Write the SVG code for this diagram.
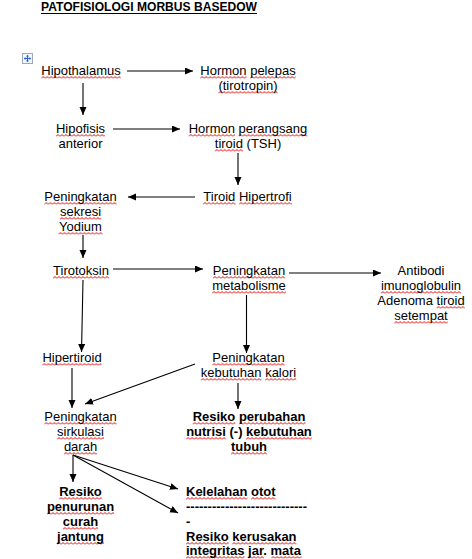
<svg xmlns="http://www.w3.org/2000/svg" width="472" height="559" viewBox="0 0 472 559">
<style>
text{font-family:"Liberation Sans",Arial,sans-serif;font-size:13px;fill:#000}
.c{text-anchor:middle}
.b{font-weight:bold}
.sq{fill:url(#wavy)}
.ln{stroke:#000;stroke-width:1.1;fill:none;marker-end:url(#ah)}
</style>
<defs>
<marker id="ah" markerUnits="userSpaceOnUse" markerWidth="9" markerHeight="8" refX="8" refY="3.5" orient="auto">
<path d="M0,0 L8,3.5 L0,7 z" fill="#000"/>
</marker>
<pattern id="wavy" patternUnits="userSpaceOnUse" width="4" height="3">
<path d="M0,2.5 L2,0.5 L4,2.5" fill="none" stroke="#e60000" stroke-width="1"/>
</pattern>
<rect id="sq0" class="sq" width="1" height="3"/>
</defs>
<rect width="472" height="559" fill="#fff"/>
<g id="title">
<text x="41" y="11" class="b" font-size="12" textLength="216" lengthAdjust="spacingAndGlyphs">PATOFISIOLOGI MORBUS BASEDOW</text>
<line x1="41" y1="13.5" x2="257" y2="13.5" stroke="#000" stroke-width="1.2"/>
</g>
<g id="move-icon">
<rect x="22.5" y="53.5" width="10" height="10" fill="#f4f6fb" stroke="#a0a8b8" stroke-width="1"/>
<path d="M27.5,55.5 V61.5 M24.5,58.5 H30.5" stroke="#2b5fcf" stroke-width="1"/>
<path d="M27.5,54.8 L26,56.5 H29 z M27.5,62.2 L26,60.5 H29 z M23.8,58.5 L25.5,57 V60 z M31.2,58.5 L29.5,57 V60 z" fill="#2b5fcf"/>
</g>
<g id="spellcheck">
<rect class="sq" width="79.5" height="3" transform="translate(41.3,76)"/>
<rect class="sq" width="46.2" height="3" transform="translate(200.3,76)"/>
<rect class="sq" width="45.5" height="3" transform="translate(250.1,76)"/>
<rect class="sq" width="59.2" height="3" transform="translate(218.4,91)"/>
<rect class="sq" width="49.1" height="3" transform="translate(55.9,134)"/>
<rect class="sq" width="46.2" height="3" transform="translate(188.8,134)"/>
<rect class="sq" width="68.7" height="3" transform="translate(238.6,134)"/>
<rect class="sq" width="28.2" height="3" transform="translate(214.8,149)"/>
<rect class="sq" width="32.5" height="3" transform="translate(203.1,202)"/>
<rect class="sq" width="52.7" height="3" transform="translate(239.2,202)"/>
<rect class="sq" width="72.3" height="3" transform="translate(44.4,202)"/>
<rect class="sq" width="41.2" height="3" transform="translate(59.9,217)"/>
<rect class="sq" width="44.1" height="3" transform="translate(58.5,232)"/>
<rect class="sq" width="56.3" height="3" transform="translate(52.9,276)"/>
<rect class="sq" width="72.3" height="3" transform="translate(212.9,276)"/>
<rect class="sq" width="73.7" height="3" transform="translate(212.2,291)"/>
<rect class="sq" width="80.2" height="3" transform="translate(380.9,291)"/>
<rect class="sq" width="28.2" height="3" transform="translate(436.6,306)"/>
<rect class="sq" width="53.5" height="3" transform="translate(394.3,321)"/>
<rect class="sq" width="59.2" height="3" transform="translate(42.4,363)"/>
<rect class="sq" width="72.3" height="3" transform="translate(212.4,363)"/>
<rect class="sq" width="60.7" height="3" transform="translate(200.8,378)"/>
<rect class="sq" width="31.1" height="3" transform="translate(265.1,378)"/>
<rect class="sq" width="72.3" height="3" transform="translate(44.4,422)"/>
<rect class="sq" width="46.9" height="3" transform="translate(57.1,437)"/>
<rect class="sq" width="33.2" height="3" transform="translate(63.9,452)"/>
<rect class="sq" width="42.6" height="3" transform="translate(192.7,422)"/>
<rect class="sq" width="66.5" height="3" transform="translate(238.9,422)"/>
<rect class="sq" width="39.7" height="3" transform="translate(186.2,437)"/>
<rect class="sq" width="65.7" height="3" transform="translate(246.1,437)"/>
<rect class="sq" width="36.1" height="3" transform="translate(231,452)"/>
<rect class="sq" width="42.6" height="3" transform="translate(59.2,497)"/>
<rect class="sq" width="67.2" height="3" transform="translate(46.9,512)"/>
<rect class="sq" width="35.4" height="3" transform="translate(62.8,527)"/>
<rect class="sq" width="46.9" height="3" transform="translate(57.1,542)"/>
<rect class="sq" width="61.4" height="3" transform="translate(186,497)"/>
<rect class="sq" width="24.5" height="3" transform="translate(251,497)"/>
<rect class="sq" width="42.6" height="3" transform="translate(186,542)"/>
<rect class="sq" width="64.3" height="3" transform="translate(232.2,542)"/>
<rect class="sq" width="58.5" height="3" transform="translate(186,556)"/>
<rect class="sq" width="15.9" height="3" transform="translate(248.1,556)"/>
<rect class="sq" width="30.3" height="3" transform="translate(271.3,556)"/>
</g>
<g id="hipothalamus"><text x="81" y="75" class="c">Hipothalamus</text></g>
<g id="hormon-pelepas"><text x="248" y="75" class="c">Hormon pelepas<tspan x="248" dy="15">(tirotropin)</tspan></text></g>
<g id="hipofisis"><text x="80.5" y="133" class="c">Hipofisis<tspan x="80.5" dy="15">anterior</tspan></text></g>
<g id="hormon-perangsang"><text x="248" y="133" class="c">Hormon perangsang<tspan x="248" dy="15">tiroid (TSH)</tspan></text></g>
<g id="tiroid-hipertrofi"><text x="247.5" y="201" class="c">Tiroid Hipertrofi</text></g>
<g id="sekresi-yodium"><text x="80.5" y="201" class="c">Peningkatan<tspan x="80.5" dy="15">sekresi</tspan><tspan x="80.5" dy="15">Yodium</tspan></text></g>
<g id="tirotoksin"><text x="81" y="275" class="c">Tirotoksin</text></g>
<g id="metabolisme"><text x="249" y="275" class="c">Peningkatan<tspan x="249" dy="15">metabolisme</tspan></text></g>
<g id="antibodi"><text x="421" y="275" class="c">Antibodi<tspan x="421" dy="15">imunoglobulin</tspan><tspan x="421" dy="15">Adenoma tiroid</tspan><tspan x="421" dy="15">setempat</tspan></text></g>
<g id="hipertiroid"><text x="72" y="362" class="c">Hipertiroid</text></g>
<g id="kebutuhan-kalori"><text x="248.5" y="362" class="c">Peningkatan<tspan x="248.5" dy="15">kebutuhan kalori</tspan></text></g>
<g id="sirkulasi-darah"><text x="80.5" y="421" class="c">Peningkatan<tspan x="80.5" dy="15">sirkulasi</tspan><tspan x="80.5" dy="15">darah</tspan></text></g>
<g id="resiko-nutrisi"><text x="249" y="421" class="c b">Resiko perubahan<tspan x="249" dy="15">nutrisi (-) kebutuhan</tspan><tspan x="249" dy="15">tubuh</tspan></text></g>
<g id="resiko-jantung"><text x="80.5" y="496" class="c b">Resiko<tspan x="80.5" dy="15">penurunan</tspan><tspan x="80.5" dy="15">curah</tspan><tspan x="80.5" dy="15">jantung</tspan></text></g>
<g id="kelelahan-mata"><text x="186" y="496" class="b">Kelelahan otot<tspan x="186" dy="15" textLength="121">----------------------------</tspan><tspan x="186" dy="15">-</tspan><tspan x="186" dy="15">Resiko kerusakan</tspan><tspan x="186" dy="14">integritas jar. mata</tspan></text></g>
<g id="connectors">
<line class="ln" x1="127" y1="71" x2="193" y2="71"/>
<line class="ln" x1="83" y1="83" x2="83" y2="115"/>
<line class="ln" x1="113" y1="129" x2="180" y2="129"/>
<line class="ln" x1="238" y1="153" x2="238" y2="185"/>
<line class="ln" x1="195" y1="197" x2="128" y2="197"/>
<line class="ln" x1="83" y1="235" x2="83" y2="258"/>
<line class="ln" x1="113" y1="269" x2="203" y2="269"/>
<line class="ln" x1="289" y1="273" x2="381" y2="273"/>
<line class="ln" x1="83" y1="280" x2="81.5" y2="352"/>
<line class="ln" x1="246.5" y1="295" x2="246.5" y2="353"/>
<line class="ln" x1="72" y1="368" x2="72" y2="408"/>
<line class="ln" x1="195" y1="364" x2="85" y2="404"/>
<line class="ln" x1="238" y1="383" x2="238" y2="409"/>
<line class="ln" x1="73" y1="455" x2="73" y2="482"/>
<line class="ln" x1="73" y1="455" x2="178" y2="489"/>
<line class="ln" x1="73" y1="455" x2="178" y2="513"/>
</g>
</svg>
